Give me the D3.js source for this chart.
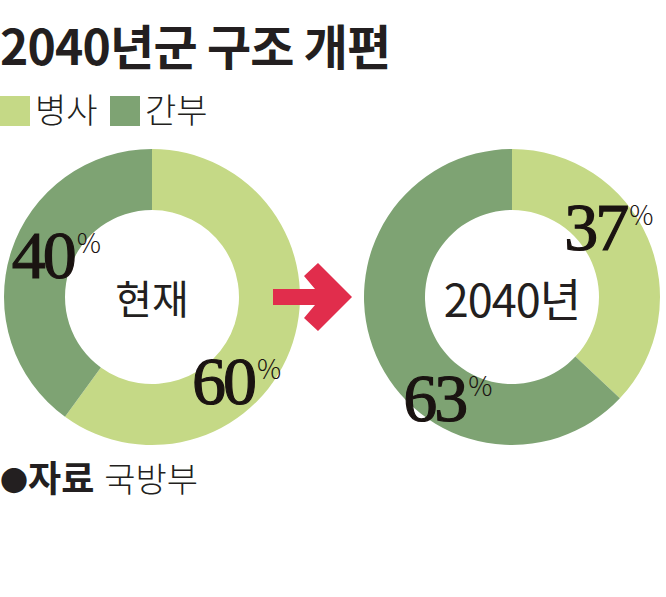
<!DOCTYPE html>
<html><head><meta charset="utf-8">
<script src="https://cdn.jsdelivr.net/npm/d3@7"></script>
<style>html,body{margin:0;padding:0;background:#fff;}svg{display:block;}</style>
</head><body>
<script>
const categories = ["병사", "간부"];
const panels = ["현재", "2040년"];
const valuesNow = [60, 40];
const values2040 = [37, 63];
const title = "2040년군 구조 개편";
const sourceLabel = "자료";
const sourceName = "국방부";

const W = 666, H = 597;
const colors = ["#c5d986", "#7ea373"];
const font = "'Noto Sans CJK KR', 'Noto Sans', sans-serif";
const numFont = "'Liberation Serif', 'DejaVu Serif', serif";

const svg = d3.select("body").append("svg").attr("width", W).attr("height", H);

// Title
svg.append("text").attr("x", 0).attr("y", 65)
  .attr("font-family", font).attr("font-weight", 700).attr("font-size", 48)
  .attr("letter-spacing", -0.8).attr("fill", "#231f20").text(title);

// Legend
const legX = [0, 110];
categories.forEach((c, i) => {
  svg.append("rect").attr("x", legX[i]).attr("y", 96).attr("width", 30).attr("height", 30).attr("fill", colors[i]);
  svg.append("text").attr("x", legX[i] + 35).attr("y", 123)
    .attr("font-family", font).attr("font-weight", 300).attr("font-size", 34)
    .attr("fill", "#231f20").text(c);
});

// Donuts
const pie = d3.pie().sort(null).value(d => d);
const arc = d3.arc().innerRadius(87).outerRadius(148);
const centers = [[152, 297], [512, 297]];
const datasets = [valuesNow, values2040];
// label angle (fraction along each slice) - layout only
const labelFrac = [[0.63, 0.53], [0.41, 0.35]];
const labelR = [[120, 105], [117, 122]];

datasets.forEach((vals, p) => {
  const g = svg.append("g").attr("transform", `translate(${centers[p][0]},${centers[p][1]})`);
  const arcs = pie(vals);
  g.selectAll("path").data(arcs).join("path")
    .attr("d", arc).attr("fill", (d, i) => colors[i]);
  g.append("text").attr("x", 0).attr("y", 0).attr("text-anchor", "middle")
    .attr("dominant-baseline", "central")
    .attr("font-family", font).attr("font-weight", 400).attr("font-size", p === 0 ? 40 : 45)
    .attr("letter-spacing", p === 0 ? 0 : -1)
    .attr("fill", "#231f20").text(panels[p]);
  arcs.forEach((a, i) => {
    const ang = a.startAngle + labelFrac[p][i] * (a.endAngle - a.startAngle);
    const r = labelR[p][i];
    const x = r * Math.sin(ang), y = -r * Math.cos(ang);
    const t = g.append("text").attr("x", x).attr("y", y + 21).attr("text-anchor", "middle")
      .attr("font-family", numFont).attr("font-size", 68).attr("letter-spacing", -3)
      .attr("fill", "#1a1311");
    t.append("tspan").attr("stroke", "#1a1311").attr("stroke-width", 1.2).text(vals[i]);
    t.append("tspan").attr("font-family", font).attr("font-weight", 300).attr("font-size", 27).attr("dy", -25).attr("dx", 3).text("%");
  });
});

// Arrow
const arrow = d3.path();
arrow.moveTo(273, 289); arrow.lineTo(315, 289); arrow.lineTo(304, 276); arrow.lineTo(318, 263);
arrow.lineTo(352, 297); arrow.lineTo(318, 331); arrow.lineTo(304, 318); arrow.lineTo(315, 305);
arrow.lineTo(273, 305); arrow.closePath();
svg.append("path").attr("d", arrow.toString()).attr("fill", "#e12d4c");

// Source
const s = svg.append("text").attr("x", 0).attr("y", 492)
  .attr("font-family", font).attr("font-size", 34).attr("fill", "#231f20");
s.append("tspan").text("●").attr("font-size", 28);
s.append("tspan").attr("font-weight", 700).attr("font-size", 36).text(sourceLabel);
s.append("tspan").attr("font-weight", 300).attr("dx", 10).text(sourceName);
</script>
</body></html>
